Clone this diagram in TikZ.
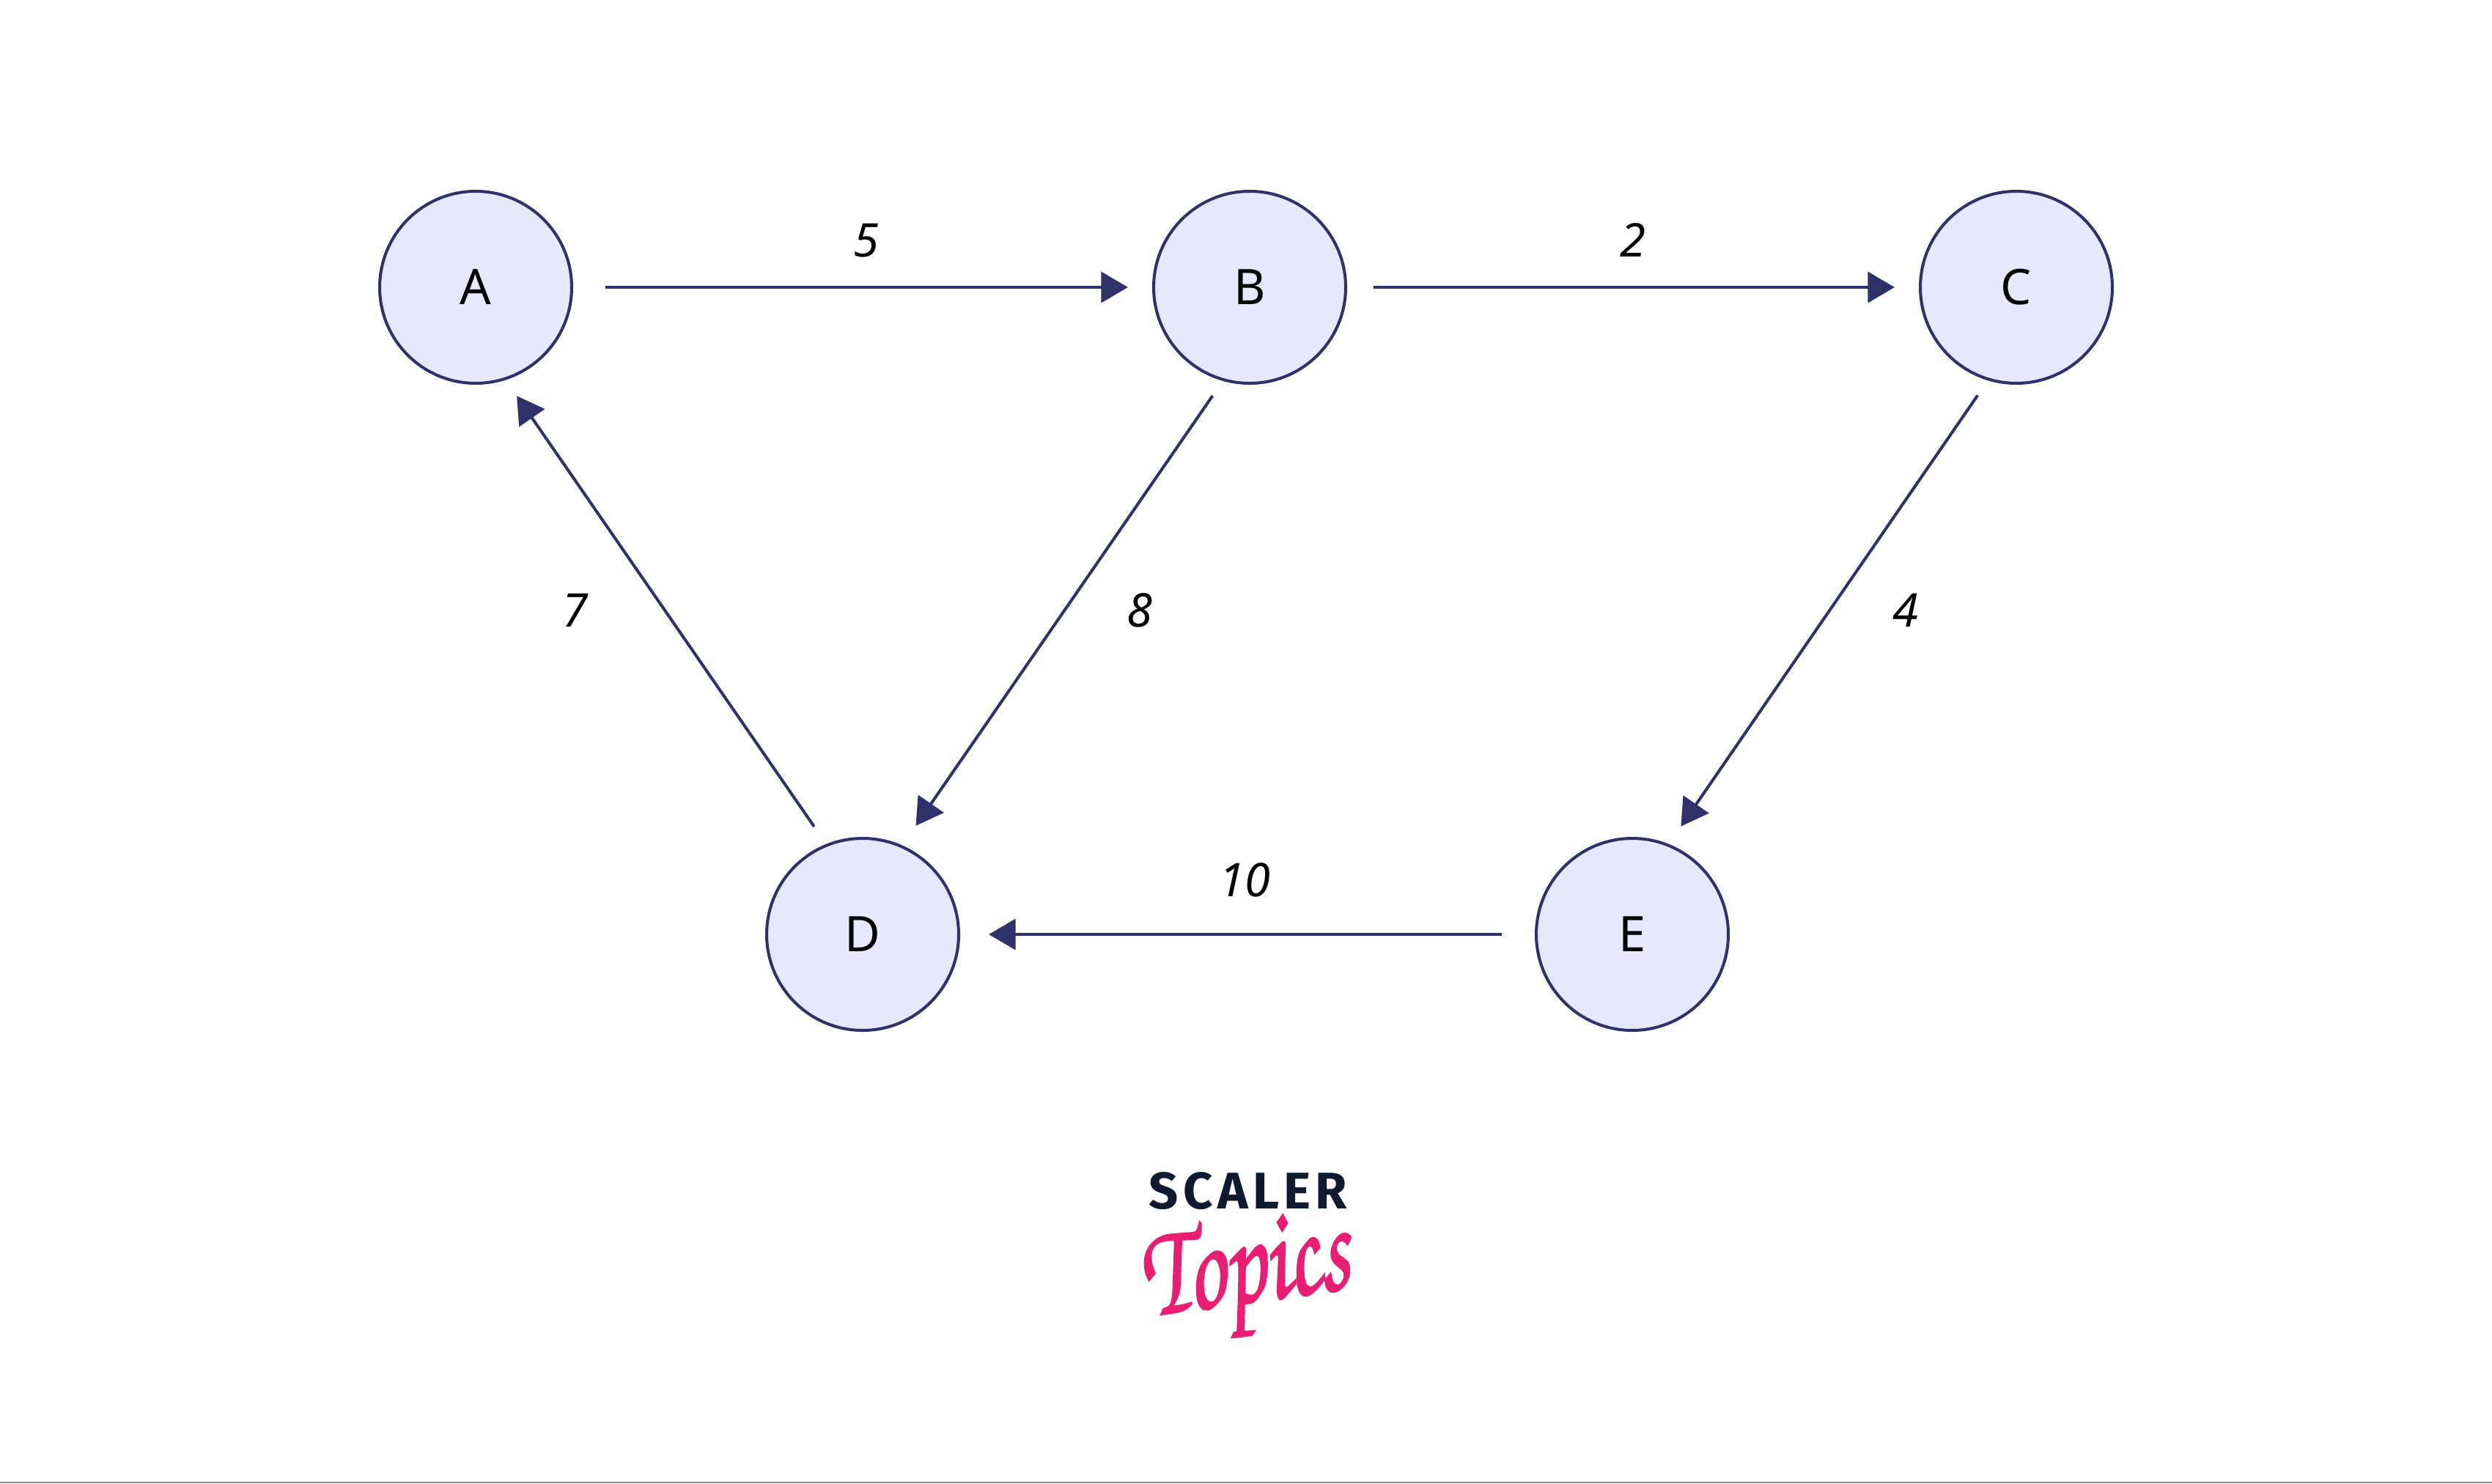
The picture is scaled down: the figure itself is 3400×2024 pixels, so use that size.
\documentclass[tikz,border=0pt]{standalone}
\usepackage{fontspec}
\usepackage{xcolor}
\setmainfont{Noto Sans}
\newfontfamily\scalerfont{Fira Sans}[LetterSpace=9]
\definecolor{edgeblue}{HTML}{2F3268}
\definecolor{nodefill}{HTML}{E7E7FD}
\definecolor{logonavy}{HTML}{0F1A30}
\definecolor{logopink}{HTML}{E91E73}
\definecolor{rulegray}{HTML}{8C8C8C}
\usetikzlibrary{arrows.meta}
\tikzset{
  vertex/.style={draw=edgeblue, circle, line width=1.15pt, fill=nodefill, minimum size=74.5pt, inner sep=0pt, font=\fontsize{19}{19}\selectfont},
  edge/.style={draw=edgeblue, line width=1.15pt, -{Triangle[length=10.4pt,width=11.9pt]}},
  weight/.style={font=\fontsize{18}{18}\selectfont\itshape, text=black}
}
\begin{document}
\begin{tikzpicture}[x=0.01cm, y=-0.01cm]
        \useasboundingbox (0,0) rectangle (3400,2024);
        \node[vertex] (a) at (649,392) {A};
        \node[vertex] (b) at (1705,392) {B};
        \node[vertex] (c) at (2751,392) {C};
        \node[vertex] (d) at (1177,1275) {D};
        \node[vertex] (e) at (2227,1275) {E};

        \draw[edge, shorten <=12.5pt, shorten >=9.4pt] (a) -- (b);
        \draw[edge, shorten <=10.2pt, shorten >=9.4pt] (b) -- (c);
        \draw[edge, shorten <=12.8pt, shorten >=11.1pt] (e) -- (d);
        \draw[edge, shorten <=7pt, shorten >=9.2pt] (b.254) -- (d.66);
        \draw[edge, shorten <=7pt, shorten >=8.3pt] (c.253) -- (e.68.5);
        \draw[edge, shorten <=8.2pt, shorten >=7.5pt] (d.112) -- (a.288);

        \node[weight] (w5) at (1182,328) {5};
        \node[weight] (w2) at (2228,328) {2};
        \node[weight] (w7) at (785,833) {7};
        \node[weight] (w8) at (1555,833) {8};
        \node[weight] (w4) at (2600,833) {4};
        \node[weight] (w10) at (1698,1201) {10};

        \node[font=\fontsize{20}{20}\scalerfont\bfseries, text=logonavy] (scaler) at (1703,1625) {SCALER};
        \node[font=\fontsize{40}{40}\usefont{T1}{pzc}{m}{it}, text=logopink, rotate=8, inner sep=0pt] (topics) at (1700,1745)
          {\scalebox{0.91}[1.29]{\special{pdf:code 2 Tr 0.6 w}Topics\special{pdf:code 0 Tr}}};

        \draw[rulegray, line width=0.5pt] (0,2023) -- (3400,2023);
\end{tikzpicture}
\end{document}
